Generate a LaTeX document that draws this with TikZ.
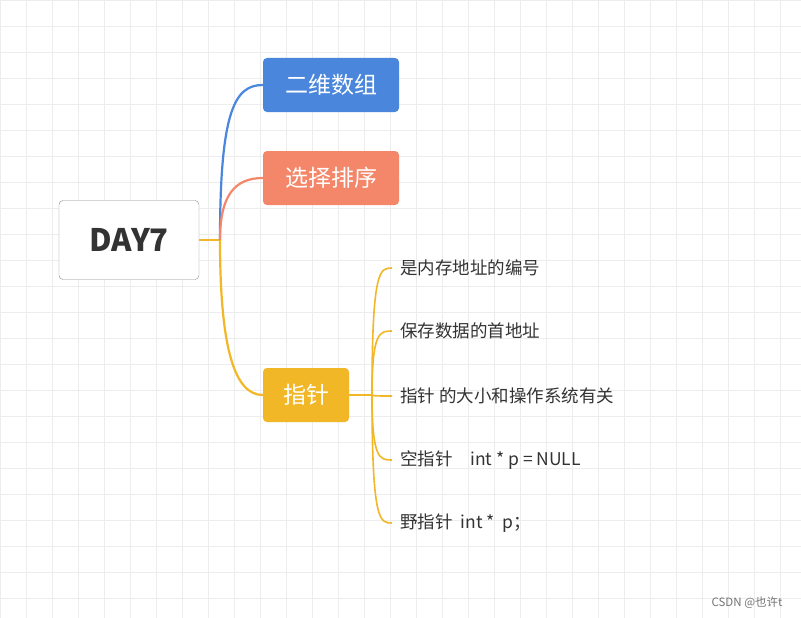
\documentclass[tikz,border=0pt]{standalone}
\usepackage{fontspec}
\setmainfont{Noto Sans CJK SC}
\definecolor{cblue}{HTML}{4A86DB}
\definecolor{corange}{HTML}{F4866A}
\definecolor{cyellow}{HTML}{F2B726}
\definecolor{ctext}{HTML}{333333}
\begin{document}
\begin{tikzpicture}[x=1pt,y=-1pt,
  mainbox/.style={rounded corners=4pt,minimum height=54pt,text=white,font=\fontsize{23}{26}\selectfont},
  item/.style={anchor=west,text=ctext,font=\fontsize{17.5}{20}\selectfont,inner sep=0pt},
  br/.style={line width=2.2pt}]
\useasboundingbox (0,0) rectangle (801,618);
\fill[white] (0,0) rectangle (801,618);
\foreach \x in {0,26,...,800} \draw[black!7,line width=0.6pt] (\x,0) -- (\x,618);
\foreach \y in {0,26,...,617} \draw[black!7,line width=0.6pt] (0,\y) -- (801,\y);
\node[draw=black!45,fill=white,rounded corners=4pt,minimum width=140pt,minimum height=79pt,font=\fontsize{31}{34}\selectfont\bfseries,text=ctext] (root) at (129,240) {DAY7};
\node[mainbox,fill=cblue,minimum width=136pt] (a) at (331,85) {二维数组};
\node[mainbox,fill=corange,minimum width=136pt] (b) at (331,178) {选择排序};
\node[mainbox,fill=cyellow,minimum width=86pt] (c) at (306,395) {指针};
\coordinate (j) at (220,240);
\draw[br,cyellow] (root.east) -- (j);
\draw[br,cblue] (j) .. controls (220,110) and (235,85) .. (a.west);
\draw[br,corange] (j) .. controls (220,195) and (235,178) .. (b.west);
\draw[br,cyellow] (j) .. controls (220,350) and (235,395) .. (c.west);
\coordinate (k) at (372,395);
\draw[br,cyellow,line width=1.6pt] (c.east) -- (k);
\foreach \n/\y/\t in {1/268/是内存地址的编号,2/331/保存数据的首地址,3/396/指针 的大小和操作系统有关,4/460/{空指针\quad int * p = NULL},5/523/{野指针\ \ int *\ \ p；}}{
  \node[item] (i\n) at (400,\y) {\t};
  \draw[cyellow,line width=1.6pt] (k) .. controls (372,\y) and (380,\y) .. ([xshift=-8pt]i\n.west);
}
\node[text=black!55,font=\fontsize{11.5}{13}\selectfont,anchor=east] (wm) at (786,603) {CSDN @也许t};
\end{tikzpicture}
\end{document}
